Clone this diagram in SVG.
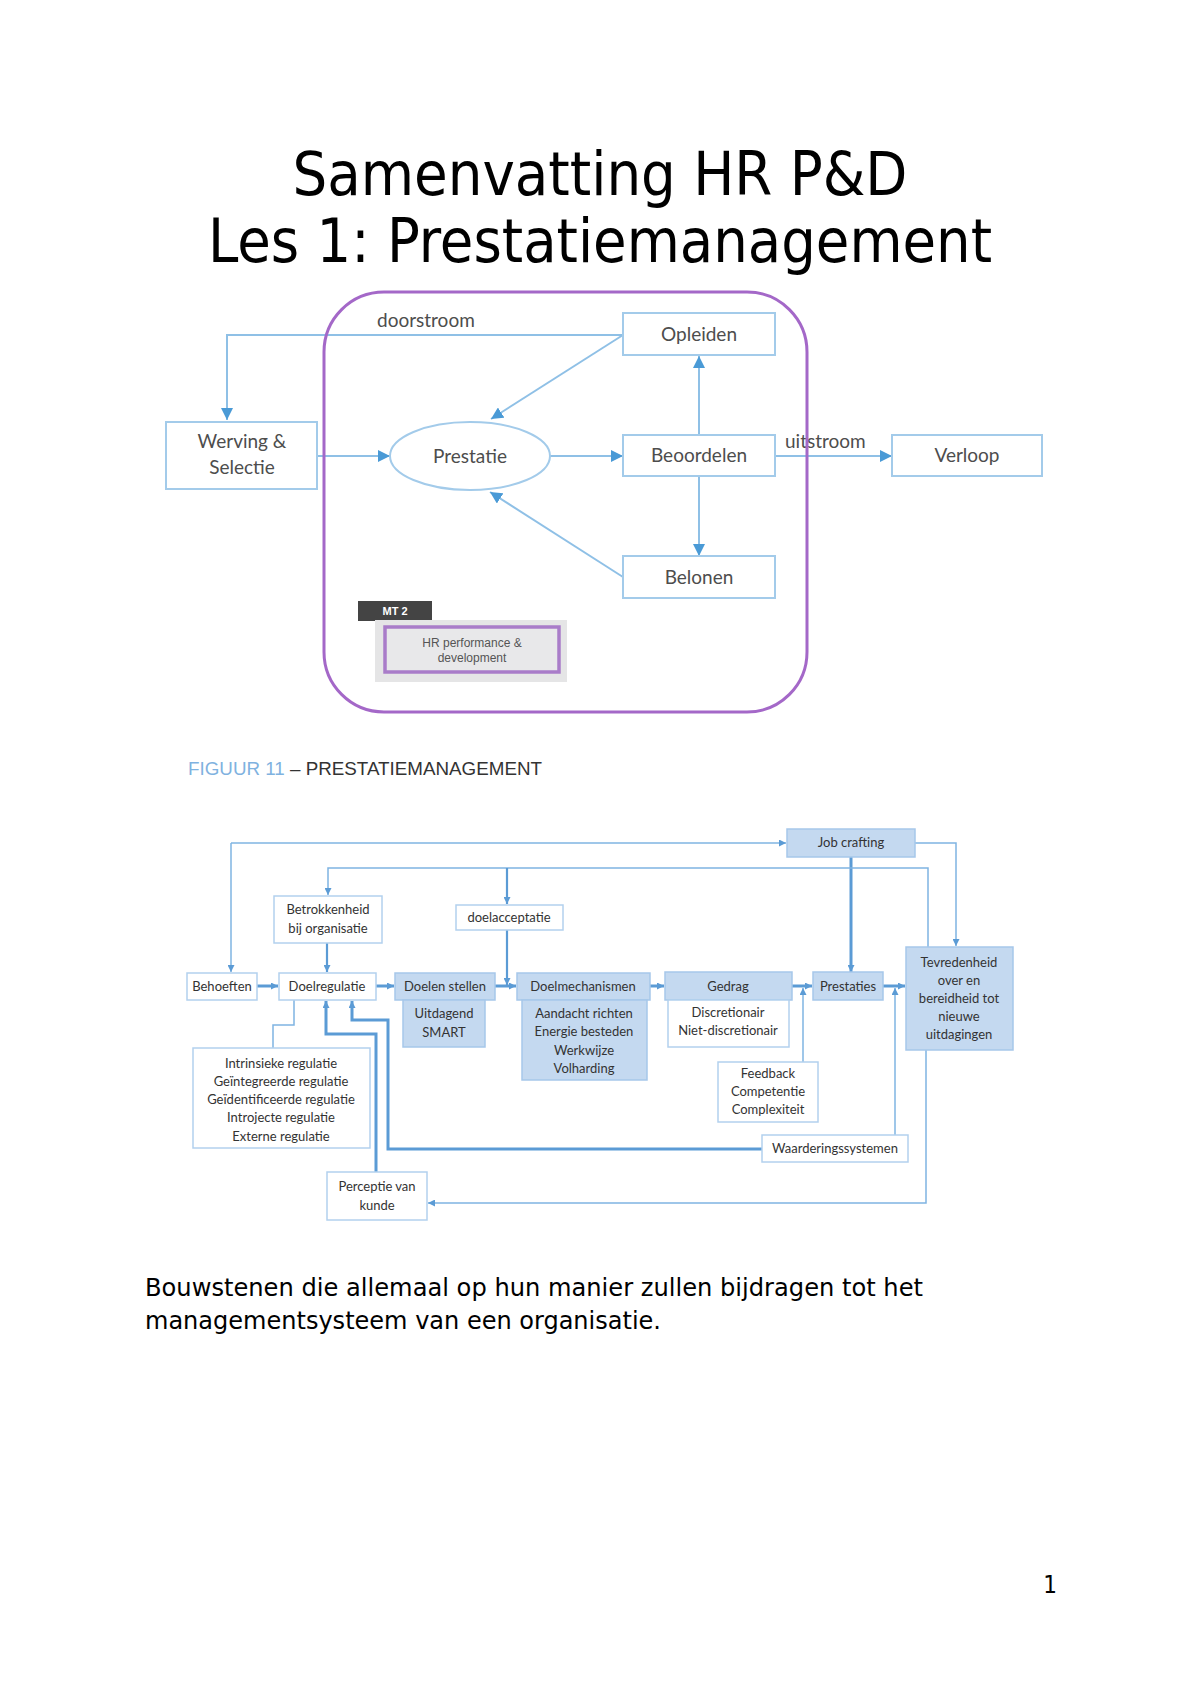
<svg xmlns="http://www.w3.org/2000/svg" width="1200" height="1696" viewBox="0 0 1200 1696">
<style>
.ttl{font-family:"DejaVu Sans Condensed","DejaVu Sans",sans-serif;font-stretch:condensed;fill:#000}
.t1{font-family:Lato,"Liberation Sans",sans-serif;font-size:19px;fill:#4d4d4d;text-anchor:middle}
.t2{font-family:Lato,"Liberation Sans",sans-serif;font-size:13px;fill:#333;text-anchor:middle}
.b1{fill:#fff;stroke:#a3cbea;stroke-width:2}
.l1{fill:none;stroke:#8fc0e6;stroke-width:2}
.bw{fill:#fff;stroke:#b3d1ee;stroke-width:1.5}
.bb{fill:#c4d9f0;stroke:#a6c7ea;stroke-width:1.5}
.thin{fill:none;stroke:#7fb4e2;stroke-width:1.5}
.thk{fill:none;stroke:#5b9bd5;stroke-width:3}
.med{fill:none;stroke:#5b9bd5;stroke-width:2.2}
</style>
<defs>
<marker id="a1" viewBox="0 0 10 10" refX="10" refY="5" markerWidth="12" markerHeight="12" markerUnits="userSpaceOnUse" orient="auto"><path d="M0,0 L10,5 L0,10 z" fill="#4a9ad6"/></marker>
<marker id="a2" viewBox="0 0 10 10" refX="10" refY="5" markerWidth="7" markerHeight="7" markerUnits="userSpaceOnUse" orient="auto"><path d="M0,0 L10,5 L0,10 z" fill="#5b9bd5"/></marker>
</defs>

<rect width="1200" height="1696" fill="#fff"/>

<g id="title">
<text class="ttl" x="600" y="195" font-size="60" text-anchor="middle" textLength="615" lengthAdjust="spacingAndGlyphs">Samenvatting HR P&amp;D</text>
<text class="ttl" x="600" y="262" font-size="60" text-anchor="middle" textLength="784" lengthAdjust="spacingAndGlyphs">Les 1: Prestatiemanagement</text>
</g>

<!-- Diagram 1 -->
<g id="connectors1">
<path class="l1" d="M623,335 H227 V420" marker-end="url(#a1)"/>
<path class="l1" d="M623,335 L491,419" marker-end="url(#a1)"/>
<path class="l1" d="M317,456 H390" marker-end="url(#a1)"/>
<path class="l1" d="M550,456 H623" marker-end="url(#a1)"/>
<path class="l1" d="M699,435 V356" marker-end="url(#a1)"/>
<path class="l1" d="M699,476 V556" marker-end="url(#a1)"/>
<path class="l1" d="M775,456 H892" marker-end="url(#a1)"/>
<path class="l1" d="M623,577 L490,492" marker-end="url(#a1)"/>
</g>
<g id="werving"><rect class="b1" x="166" y="422" width="151" height="67"/><text class="t1" x="242" y="448">Werving &amp;</text><text class="t1" x="242" y="474">Selectie</text></g>
<g id="prestatie"><ellipse cx="470" cy="456" rx="80" ry="34" fill="#fff" stroke="#a3cbea" stroke-width="2"/><text class="t1" x="470" y="463">Prestatie</text></g>
<g id="opleiden"><rect class="b1" x="623" y="313" width="152" height="42"/><text class="t1" x="699" y="341">Opleiden</text></g>
<g id="beoordelen"><rect class="b1" x="623" y="435" width="152" height="41"/><text class="t1" x="699" y="462">Beoordelen</text></g>
<g id="verloop"><rect class="b1" x="892" y="435" width="150" height="41"/><text class="t1" x="967" y="462">Verloop</text></g>
<g id="belonen"><rect class="b1" x="623" y="556" width="152" height="42"/><text class="t1" x="699" y="584">Belonen</text></g>
<g id="labels1">
<text class="t1" x="377" y="327" text-anchor="start" style="text-anchor:start">doorstroom</text>
<text class="t1" x="785" y="448" style="text-anchor:start">uitstroom</text>
</g>
<g id="mt2">
<rect x="358" y="601" width="74" height="20" fill="#444"/>
<text x="395" y="615" font-family="Liberation Sans,sans-serif" font-size="11" font-weight="bold" fill="#fff" text-anchor="middle">MT 2</text>
<rect x="375" y="620" width="192" height="62" fill="#e5e5e6"/>
<rect x="385" y="627" width="174" height="45" fill="#e8e8ea" stroke="#a97cc9" stroke-width="3.5"/>
<text x="472" y="647" font-family="Liberation Sans,sans-serif" font-size="12" fill="#555" text-anchor="middle">HR performance &amp;</text>
<text x="472" y="662" font-family="Liberation Sans,sans-serif" font-size="12" fill="#555" text-anchor="middle">development</text>
</g>
<g id="frame"><rect x="324" y="292" width="483" height="420" rx="60" ry="60" fill="none" stroke="#a468c8" stroke-width="3"/></g>

<g id="caption">
<text x="188" y="775" font-family="Liberation Sans,sans-serif" font-size="18" textLength="354" lengthAdjust="spacingAndGlyphs"><tspan fill="#7fb2e0">FIGUUR 11</tspan><tspan fill="#333"> – PRESTATIEMANAGEMENT</tspan></text>
</g>

<!-- Diagram 2 -->
<g id="connectors2">
<path class="thin" d="M231,843 H786" marker-end="url(#a2)"/>
<path class="thin" d="M231,843 V972" marker-end="url(#a2)"/>
<path class="thin" d="M915,843 H956 V946" marker-end="url(#a2)"/>
<path class="thk" d="M851,857 V972" marker-end="url(#a2)"/>
<path class="thin" d="M928,947 V868 H328 V895" marker-end="url(#a2)"/>
<path class="med" d="M507,868 V904" marker-end="url(#a2)"/>
<path class="med" d="M507,930 V985" marker-end="url(#a2)"/>
<path class="med" d="M327,943 V972" marker-end="url(#a2)"/>
<path class="thk" d="M257,986 H278" marker-end="url(#a2)"/>
<path class="thk" d="M376,986 H394" marker-end="url(#a2)"/>
<path class="thk" d="M495,986 H516" marker-end="url(#a2)"/>
<path class="thk" d="M650,986 H664" marker-end="url(#a2)"/>
<path class="thk" d="M792,986 H812" marker-end="url(#a2)"/>
<path class="thk" d="M883,986 H905" marker-end="url(#a2)"/>
<path class="thin" d="M803,1062 V988" marker-end="url(#a2)"/>
<path class="thin" d="M895,1135 V988" marker-end="url(#a2)"/>
<path class="thin" d="M294,1000 V1025 H273 V1048"/>
<path class="thk" d="M376,1172 V1034 H326 V1001" marker-end="url(#a2)"/>
<path class="thk" d="M762,1149 H388 V1020 H352 V1001" marker-end="url(#a2)"/>
<path class="thin" d="M926,1050 V1203 H428" marker-end="url(#a2)"/>
</g>
<g id="jobcrafting"><rect class="bb" x="787" y="829" width="128" height="28"/><text class="t2" x="851" y="847">Job crafting</text></g>
<g id="betrokkenheid"><rect class="bw" x="274" y="896" width="108" height="47"/><text class="t2" x="328" y="914">Betrokkenheid</text><text class="t2" x="328" y="933">bij organisatie</text></g>
<g id="doelacceptatie"><rect class="bw" x="456" y="905" width="107" height="25"/><text class="t2" x="509" y="922">doelacceptatie</text></g>
<g id="behoeften"><rect class="bw" x="187" y="973" width="70" height="27"/><text class="t2" x="222" y="991">Behoeften</text></g>
<g id="doelregulatie"><rect class="bw" x="279" y="973" width="97" height="27"/><text class="t2" x="327" y="991">Doelregulatie</text></g>
<g id="doelenstellen"><rect class="bb" x="395" y="973" width="100" height="27"/><text class="t2" x="445" y="991">Doelen stellen</text></g>
<g id="uitdagend"><rect class="bb" x="403" y="1000" width="82" height="47"/><text class="t2" x="444" y="1018">Uitdagend</text><text class="t2" x="444" y="1037">SMART</text></g>
<g id="doelmechanismen"><rect class="bb" x="517" y="973" width="133" height="27"/><text class="t2" x="583" y="991">Doelmechanismen</text></g>
<g id="mechsub"><rect class="bb" x="522" y="1000" width="125" height="80"/><text class="t2" x="584" y="1018">Aandacht richten</text><text class="t2" x="584" y="1036">Energie besteden</text><text class="t2" x="584" y="1055">Werkwijze</text><text class="t2" x="584" y="1073">Volharding</text></g>
<g id="gedrag"><rect class="bb" x="665" y="972" width="127" height="28"/><text class="t2" x="728" y="991">Gedrag</text></g>
<g id="gedragsub"><rect class="bw" x="668" y="1000" width="121" height="47"/><text class="t2" x="728" y="1017">Discretionair</text><text class="t2" x="728" y="1035">Niet-discretionair</text></g>
<g id="prestaties"><rect class="bb" x="813" y="972" width="70" height="28"/><text class="t2" x="848" y="991">Prestaties</text></g>
<g id="tevredenheid"><rect class="bb" x="906" y="947" width="107" height="103"/><text class="t2" x="959" y="967">Tevredenheid</text><text class="t2" x="959" y="985">over en</text><text class="t2" x="959" y="1003">bereidheid tot</text><text class="t2" x="959" y="1021">nieuwe</text><text class="t2" x="959" y="1039">uitdagingen</text></g>
<g id="feedback"><rect class="bw" x="718" y="1062" width="100" height="60"/><text class="t2" x="768" y="1078">Feedback</text><text class="t2" x="768" y="1096">Competentie</text><text class="t2" x="768" y="1114">Complexiteit</text></g>
<g id="regulatie"><rect class="bw" x="193" y="1048" width="177" height="100"/><text class="t2" x="281" y="1068">Intrinsieke regulatie</text><text class="t2" x="281" y="1086">Geïntegreerde regulatie</text><text class="t2" x="281" y="1104">Geïdentificeerde regulatie</text><text class="t2" x="281" y="1122">Introjecte regulatie</text><text class="t2" x="281" y="1141">Externe regulatie</text></g>
<g id="waardering"><rect class="bw" x="762" y="1135" width="146" height="27"/><text class="t2" x="835" y="1153">Waarderingssystemen</text></g>
<g id="perceptie"><rect class="bw" x="327" y="1172" width="100" height="48"/><text class="t2" x="377" y="1191">Perceptie van</text><text class="t2" x="377" y="1210">kunde</text></g>

<g id="body">
<text class="ttl" x="145" y="1296" font-size="24" textLength="778" lengthAdjust="spacingAndGlyphs">Bouwstenen die allemaal op hun manier zullen bijdragen tot het</text>
<text class="ttl" x="145" y="1329" font-size="24" textLength="516" lengthAdjust="spacingAndGlyphs">managementsysteem van een organisatie.</text>
<text class="ttl" x="1050" y="1593" font-size="24" text-anchor="middle">1</text>
</g>
</svg>
